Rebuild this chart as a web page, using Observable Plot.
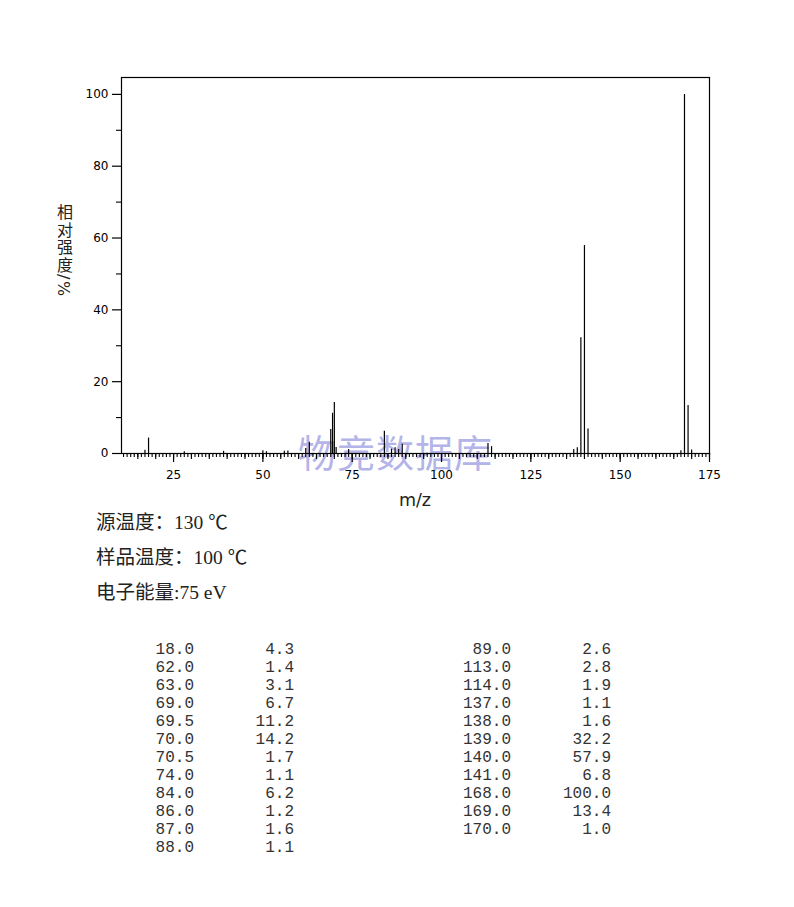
<!DOCTYPE html>
<html>
<head>
<meta charset="utf-8">
<script src="https://cdn.jsdelivr.net/npm/d3@7"></script>
<script src="https://cdn.jsdelivr.net/npm/@observablehq/plot@0.6"></script>
<style>
  html, body { margin: 0; padding: 0; background: #fff; }
  #page { position: relative; width: 794px; height: 907px; overflow: hidden; background: #fff; }
  #watermark { position: absolute; left: 298px; top: 423px; font-family: "Noto Sans CJK SC", sans-serif; font-size: 38px; color: #b4b4e8; letter-spacing: 1px; z-index: 0; white-space: nowrap; }
  #chart { position: absolute; left: 0; top: 0; z-index: 1; }
  #ylabel { position: absolute; left: 53px; top: 204px; writing-mode: vertical-rl; text-orientation: mixed; font-family: "DejaVu Sans", "Noto Sans CJK SC", sans-serif; font-size: 16px; line-height: 20px; letter-spacing: 1.5px; color: #222; z-index: 2; white-space: nowrap; }
  #xlabel { position: absolute; left: 0; width: 830px; text-align: center; top: 490px; font-family: "DejaVu Sans", sans-serif; font-size: 17.5px; color: #222; z-index: 2; }
  .info { position: absolute; left: 96px; font-family: "Liberation Serif", "Noto Sans CJK SC", serif; font-size: 19.5px; line-height: 24px; color: #222; white-space: pre; }
  .cell { position: absolute; font-family: "Liberation Mono", monospace; font-size: 16px; color: #333; text-align: right; white-space: pre; line-height: 18px; }
</style>
</head>
<body>
<div id="page">
  <div id="watermark">物竞数据库</div>
  <div id="chart"></div>
  <div id="ylabel">相对强度/%</div>
  <div id="xlabel">m/z</div>
  <div class="info" style="top:511px">源温度：130 ℃</div>
  <div class="info" style="top:546px">样品温度：100 ℃</div>
  <div class="info" style="top:581px">电子能量:75 eV</div>
  <div id="table"></div>
</div>
<script>
// Listed peaks (m/z, relative intensity %)
const peakMz = [18.0, 62.0, 63.0, 69.0, 69.5, 70.0, 70.5, 74.0, 84.0, 86.0, 87.0, 88.0,
                89.0, 113.0, 114.0, 137.0, 138.0, 139.0, 140.0, 141.0, 168.0, 169.0, 170.0];
const peakIntensity = [4.3, 1.4, 3.1, 6.7, 11.2, 14.2, 1.7, 1.1, 6.2, 1.2, 1.6, 1.1,
                       2.6, 2.8, 1.9, 1.1, 1.6, 32.2, 57.9, 6.8, 100.0, 13.4, 1.0];
// Small unlisted peaks
const minorMz = [17, 28, 39, 50, 51, 56, 57, 167];
const minorIntensity = [0.9, 0.5, 0.6, 0.8, 0.5, 0.6, 0.7, 0.8];

const xTickLabels = [25, 50, 75, 100, 125, 150, 175];
const yTickLabels = [0, 20, 40, 60, 80, 100];
const yMinorTicks = [10, 30, 50, 70, 90];
const xMinorTicks = d3.range(11, 176);
const xMidTicks = d3.range(15, 176, 5);

const peaks = peakMz.map((m, i) => ({mz: m, intensity: peakIntensity[i]}))
  .concat(minorMz.map((m, i) => ({mz: m, intensity: minorIntensity[i]})));

const chart = Plot.plot({
  width: 794,
  height: 520,
  marginTop: 77,
  marginBottom: 67,
  marginLeft: 121,
  marginRight: 85,
  x: {domain: [10.43, 175]},
  y: {domain: [0, 104.7]},
  style: {fontFamily: "DejaVu Sans, sans-serif", fontSize: "12px", color: "#000", background: "transparent"},
  marks: [
    Plot.frame({stroke: "#000", strokeWidth: 1.2}),
    Plot.ruleX(peaks, {x: "mz", y1: 0, y2: "intensity", stroke: "#000", strokeWidth: 1.2}),
    Plot.axisX(xMinorTicks, {tickSize: 4, tickFormat: () => "", label: null, strokeWidth: 1.1}),
    Plot.axisX(xMidTicks, {tickSize: 6, tickFormat: () => "", label: null, strokeWidth: 1.1}),
    Plot.axisX(xTickLabels, {tickSize: 9, tickPadding: 8, label: null, strokeWidth: 1.2}),
    Plot.axisY(yMinorTicks, {tickSize: 5, tickFormat: () => "", label: null, strokeWidth: 1.1}),
    Plot.axisY(yTickLabels, {tickSize: 9, tickPadding: 4, label: null, strokeWidth: 1.2})
  ]
});
document.getElementById("chart").appendChild(chart);

// Peak table
const table = document.getElementById("table");
const fmt = d3.format(".1f");
const leftCount = 12;
peakMz.forEach((m, i) => {
  const col = i < leftCount ? 0 : 1;
  const row = i < leftCount ? i : i - leftCount;
  const top = 641 + row * 18;
  const mzRight = col === 0 ? 194 : 511;
  const valRight = col === 0 ? 294 : 611;
  [[fmt(m), mzRight], [fmt(peakIntensity[i]), valRight]].forEach(([t, r]) => {
    const d = document.createElement("div");
    d.className = "cell";
    d.style.top = top + "px";
    d.style.left = (r - 80) + "px";
    d.style.width = "80px";
    d.textContent = t;
    table.appendChild(d);
  });
});
</script>
</body>
</html>
